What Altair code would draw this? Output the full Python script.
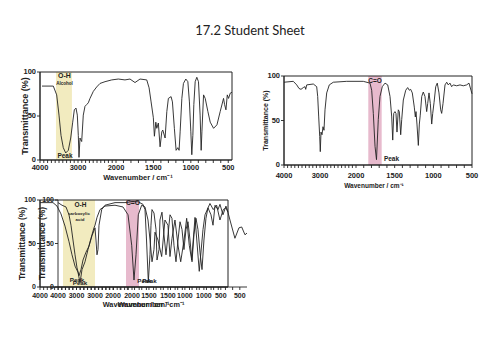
import altair as alt
import pandas as pd

W, H = 500, 353
FONT = "Liberation Sans"
INK = "#222222"

# ---------------- Spectrum 1 (alcohol), top left ----------------
alc_wn = [3947, 3650, 3561, 3500, 3447, 3387, 3324, 3255, 3192, 3139, 3097, 3053, 3018, 2992, 2974,
          2947, 2929, 2903, 2861, 2816, 2771, 2729, 2684, 2597, 2508, 2421, 2289, 2113, 1969, 1880,
          1813, 1746, 1679, 1589, 1558, 1531, 1501, 1487, 1468, 1455, 1434, 1411, 1388, 1375, 1344,
          1321, 1300, 1264, 1246, 1220, 1197, 1174, 1157, 1143, 1120, 1099, 1067, 1040, 1019, 1000,
          987, 973, 960, 942, 920, 898, 876, 862, 852, 830, 808, 772, 741, 696, 651, 608, 563, 549,
          531, 513, 496, 473, 450]
alc_t = [84, 84, 74, 51, 28, 14, 8, 11, 25, 43, 57, 59, 51, 28, 3, 25, 23, 21, 51, 61, 63, 65, 70, 78,
         83, 87, 89, 91, 92, 91, 92, 88, 92, 91, 82, 66, 48, 27, 43, 36, 42, 15, 32, 34, 25, 55, 70,
         72, 66, 36, 11, 14, 11, 32, 70, 87, 92, 89, 66, 32, 6, 28, 63, 89, 94, 89, 51, 11, 32, 74,
         70, 55, 43, 36, 40, 55, 70, 63, 57, 74, 70, 76, 77]

# ---------------- Spectrum 2 (carbonyl), top right ----------------
ket_wn = [4000, 3742, 3647, 3583, 3528, 3464, 3417, 3397, 3369, 3186, 3092, 3064, 3036, 3008, 2992,
          2972, 2944, 2917, 2889, 2861, 2814, 2742, 2630, 2258, 1906, 1819, 1797, 1776, 1754, 1735,
          1712, 1690, 1660, 1625, 1590, 1560, 1538, 1525, 1512, 1496, 1483, 1470, 1453, 1440, 1422,
          1409, 1388, 1357, 1332, 1311, 1293, 1272, 1246, 1233, 1224, 1211, 1194, 1181, 1169, 1150,
          1130, 1108, 1086, 1073, 1056, 1039, 1021, 1008, 991, 969, 949, 927, 905, 892, 875, 849,
          827, 807, 785, 763, 742, 698, 655, 613, 569, 539, 513, 500]
ket_t = [93, 94, 90, 86, 85, 87, 88, 85, 90, 91, 88, 77, 54, 32, 15, 37, 34, 43, 39, 62, 81, 90, 93,
         94, 94, 92, 84, 58, 21, 6, 51, 77, 88, 92, 90, 77, 54, 28, 58, 60, 58, 37, 62, 60, 34, 51,
         73, 84, 87, 84, 85, 81, 65, 54, 60, 45, 22, 46, 56, 77, 82, 77, 60, 69, 81, 69, 46, 58, 70,
         88, 92, 81, 62, 58, 69, 90, 93, 90, 92, 88, 90, 89, 90, 89, 90, 92, 84, 80]

# ---------------- Spectrum 3a (carboxylic acid), bottom ----------------
acA_wn = [4000, 3644, 3534, 3425, 3315, 3205, 3123, 3041, 2959, 2904, 2849, 2767, 2685, 2603, 2521,
          2493, 2438, 2356, 2219, 1972, 1861, 1791, 1740, 1708, 1680, 1648, 1601, 1555, 1513, 1485,
          1457, 1430, 1416, 1374, 1323, 1277, 1235, 1207, 1179, 1138, 1092, 1058, 1012, 975, 939,
          905, 859, 800, 748, 720, 651, 605, 558, 512, 466, 429, 400]
acA_t = [97, 97, 93, 84, 70, 52, 37, 24, 17, 5, 20, 29, 43, 56, 68, 71, 80, 89, 93, 94, 92, 83, 48,
         8, 37, 83, 94, 92, 77, 54, 29, 43, 63, 54, 35, 77, 71, 35, 56, 77, 46, 29, 54, 79, 48, 31,
         80, 18, 66, 83, 96, 89, 94, 77, 89, 91, 86]

# ---------------- Spectrum 3b (overlapping copy), bottom ----------------
acB_wn = [4000, 3892, 3784, 3703, 3649, 3595, 3540, 3486, 3432, 3378, 3324, 3243, 3162, 3081, 3000,
          2973, 2946, 2919, 2892, 2819, 2730, 2459, 2189, 2000, 1917, 1847, 1819, 1798, 1773, 1750,
          1736, 1722, 1694, 1666, 1652, 1624, 1611, 1583, 1555, 1527, 1499, 1471, 1444, 1416, 1388,
          1360, 1332, 1304, 1277, 1249, 1221, 1193, 1165, 1138, 1110, 1082, 1054, 1026, 999, 971,
          943, 901, 873, 845, 804, 776, 734, 693, 665, 637, 568, 512, 474, 428, 400]
acB_t = [97, 94, 92, 83, 71, 54, 37, 22, 13, 20, 31, 40, 47, 59, 68, 54, 37, 43, 71, 89, 94, 97, 97,
         98, 98, 95, 89, 54, 6, 37, 71, 89, 85, 66, 31, 43, 77, 86, 60, 37, 60, 83, 79, 48, 29, 54,
         75, 66, 43, 66, 75, 54, 29, 60, 79, 66, 40, 20, 54, 79, 91, 83, 71, 94, 89, 95, 83, 93, 86,
         77, 56, 68, 69, 60, 62]

# ---------------- tick values / labels ----------------
major_ticks = [4000, 3000, 2000, 1500, 1000, 500]
y_ticks = [0, 50, 100]
x_title = "Wavenumber / cm⁻¹"
y_title = "Transmittance (%)"

# ---------------- annotations ----------------
p1_bands = {"x1": [3580], "x2": [3160], "color": ["#f2ebbf"]}
p1_text = {"wn": [3355, 3355, 3342], "t": [95.5, 86, 5], "txt": ["O-H", "Alcohol", "Peak"],
           "fs": [7, 4.5, 6.5]}
p2_bands = {"x1": [1841], "x2": [1668], "color": ["#e7bacd"]}
p2_text = {"wn": [1754, 1541], "t": [94.5, 6.5], "txt": ["C=O", "Peak"], "fs": [6.5, 6.5]}
p3_bands = {"x1": [3370, 1819], "x2": [2493, 1638], "color": ["#f2ebbf", "#e7bacd"]}
p3_text = {"wn": [2890, 2931, 2904, 2986, 1722, 1562], "t": [94, 84, 77, 8, 97, 7],
           "txt": ["O-H", "carboxylic", "acid", "Peak", "C=O", "Peak"],
           "fs": [6.5, 4.4, 4.4, 6.2, 6.8, 6.2]}
p3b_text = {"wn": [3405, 1757], "t": [4.5, 7], "txt": ["Peak", "Peak"], "fs": [6.2, 6.2]}

for a, b in [(alc_wn, alc_t), (ket_wn, ket_t), (acA_wn, acA_t), (acB_wn, acB_t)]:
    assert len(a) == len(b)


def px_to_wn(px, xdom, xrng):
    """Invert the piecewise-linear x scale (used only to place axis furniture)."""
    n = len(xrng)
    for i in range(n - 1):
        if px <= xrng[i + 1] or i == n - 2:
            f = (px - xrng[i]) / (xrng[i + 1] - xrng[i])
            return xdom[i] + f * (xdom[i + 1] - xdom[i])


def panel(wn, t, xdom, xrng, yrng, bands=None, texts=None, frame=True,
          lab_fs=7.5, xt_fs=7.5, yt_fs=8.5, xlab_dy=8.0, xt_dy=18.0, xt_cx=None,
          yt_dx=15.0, last_tick=500, tick=3.0):
    xs = alt.Scale(domain=xdom, range=xrng, nice=False, zero=False)
    ys = alt.Scale(domain=[0, 100], range=yrng, nice=False, zero=False)
    t_per_px = 100.0 / (yrng[0] - yrng[1])

    def X(f):
        return alt.X(f, scale=xs, axis=None)

    def Y(f):
        return alt.Y(f, scale=ys, axis=None)

    layers = []
    if bands is not None:
        bdf = pd.DataFrame(bands)
        bdf["y1"] = 0
        bdf["y2"] = 100
        layers.append(alt.Chart(bdf).mark_rect(strokeWidth=0).encode(
            x=X("x1:Q"), x2="x2:Q", y=Y("y1:Q"), y2="y2:Q",
            color=alt.Color("color:N", scale=None)))
    if frame:
        fdf = pd.DataFrame({"x1": [xdom[0]], "x2": [xdom[-1]], "y1": [0], "y2": [100]})
        layers.append(alt.Chart(fdf).mark_rect(fillOpacity=0, stroke=INK, strokeWidth=1).encode(
            x=X("x1:Q"), x2="x2:Q", y=Y("y1:Q"), y2="y2:Q"))

    # axis lines + ticks (as rules in data units)
    x0 = xdom[0]
    ytick_wn = px_to_wn(xrng[0] - tick, xdom, xrng)
    rules = {"x": [x0, x0], "x2": [xdom[-1], x0], "y": [0, 0], "y2": [0, 100]}
    for v in range(4000, last_tick - 1, -100):
        rules["x"].append(v); rules["x2"].append(v)
        rules["y"].append(0); rules["y2"].append(-tick * t_per_px)
    for v in y_ticks:
        rules["x"].append(x0); rules["x2"].append(ytick_wn)
        rules["y"].append(v); rules["y2"].append(v)
    layers.append(alt.Chart(pd.DataFrame(rules)).mark_rule(color=INK, strokeWidth=0.9).encode(
        x=X("x:Q"), x2="x2:Q", y=Y("y:Q"), y2="y2:Q"))

    # spectrum line
    ldf = pd.DataFrame({"wn": wn, "t": t})
    layers.append(alt.Chart(ldf).mark_line(color=INK, strokeWidth=0.9).encode(
        x=X("wn:Q"), y=Y("t:Q"), order=alt.Order("idx:Q")).transform_window(idx="row_number()"))

    # x tick labels
    xl = pd.DataFrame({"v": [m for m in major_ticks if m >= last_tick],
                       })
    xl["y"] = -xlab_dy * t_per_px
    xl["lab"] = xl["v"].astype(str)
    layers.append(alt.Chart(xl).mark_text(font=FONT, fontWeight="bold", fontSize=lab_fs,
                                          color=INK, baseline="middle", align="center").encode(
        x=X("v:Q"), y=Y("y:Q"), text="lab:N"))
    # y tick labels
    yl = pd.DataFrame({"v": y_ticks})
    yl["x"] = px_to_wn(xrng[0] - tick - 1, xdom, xrng)
    yl["lab"] = yl["v"].astype(str)
    layers.append(alt.Chart(yl).mark_text(font=FONT, fontWeight="bold", fontSize=lab_fs,
                                          color=INK, baseline="middle", align="right").encode(
        x=X("x:Q"), y=Y("v:Q"), text="lab:N"))
    # axis titles
    cx = xt_cx if xt_cx is not None else (xrng[0] + xrng[-1]) / 2.0
    xt = pd.DataFrame({"x": [px_to_wn(cx, xdom, xrng)], "y": [-xt_dy * t_per_px],
                       "lab": [x_title]})
    layers.append(alt.Chart(xt).mark_text(font=FONT, fontWeight="bold", fontSize=xt_fs,
                                          color=INK, baseline="middle", align="center").encode(
        x=X("x:Q"), y=Y("y:Q"), text="lab:N"))
    yt = pd.DataFrame({"x": [px_to_wn(xrng[0] - yt_dx, xdom, xrng)], "y": [50],
                       "lab": [y_title]})
    layers.append(alt.Chart(yt).mark_text(font=FONT, fontWeight="bold", fontSize=yt_fs,
                                          color=INK, baseline="middle", align="center",
                                          angle=270).encode(
        x=X("x:Q"), y=Y("y:Q"), text="lab:N"))

    if texts is not None:
        tdf = pd.DataFrame(texts)
        layers.append(alt.Chart(tdf).mark_text(font=FONT, fontWeight="bold", color=INK,
                                               baseline="middle", align="center").encode(
            x=X("wn:Q"), y=Y("t:Q"), text="txt:N",
            size=alt.Size("fs:Q", scale=None, legend=None)))
    return alt.layer(*layers)


p1 = panel(alc_wn, alc_t, [4000, 2000, 450], [40, 116, 232], [160, 72],
           bands=p1_bands, texts=p1_text, lab_fs=7.5, xt_fs=7.5, yt_fs=9,
           xlab_dy=8, xt_dy=18, xt_cx=138, yt_dx=15)
p2 = panel(ket_wn, ket_t, [4000, 2000, 500], [284, 356, 472], [165, 76],
           bands=p2_bands, texts=p2_text, lab_fs=7.5, xt_fs=6.5, yt_fs=7,
           xlab_dy=10.5, xt_dy=21, xt_cx=374, yt_dx=18)
p3a = panel(acA_wn, acA_t, [4000, 2000, 400], [40, 113, 228], [287, 200],
            bands=p3_bands, texts=p3_text, lab_fs=7, xt_fs=7.3, yt_fs=8.5,
            xlab_dy=8.7, xt_dy=18, xt_cx=136, yt_dx=18)
p3b = panel(acB_wn, acB_t, [4000, 2000, 400], [58, 132, 247], [287, 200],
            bands=None, texts=p3b_text, frame=False, lab_fs=7, xt_fs=7.3, yt_fs=8.5,
            xlab_dy=8.7, xt_dy=18, xt_cx=151, yt_dx=16)

title_layer = alt.Chart(pd.DataFrame({"t": ["17.2 Student Sheet"]})).mark_text(
    font="Lato", fontSize=13, color="#222222", baseline="middle", align="center").encode(
    x=alt.value(250), y=alt.value(31), text="t:N")

chart = alt.layer(title_layer, p1, p2, p3a, p3b).resolve_scale(
    x="independent", y="independent", size="independent").properties(
    width=W, height=H, autosize=alt.AutoSizeParams(type="none"), padding=0,
    background="white").configure_view(stroke=None)

chart.save("out.html", embed_options={"renderer": "svg", "actions": False})
